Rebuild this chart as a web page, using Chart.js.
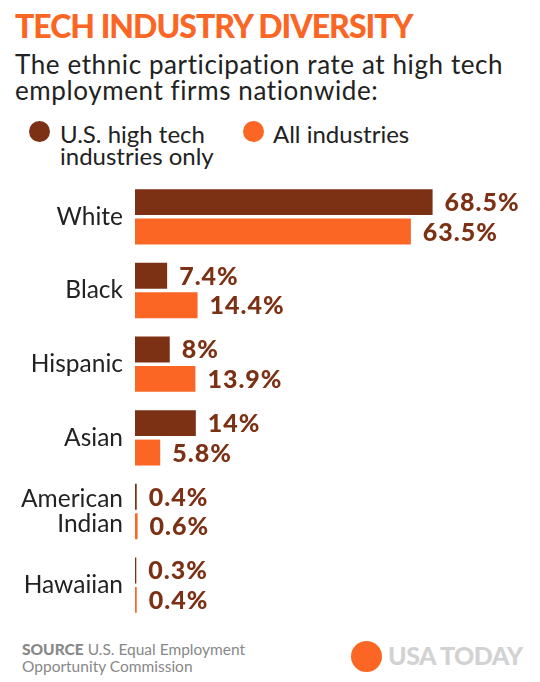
<!DOCTYPE html>
<html>
<head>
<meta charset="utf-8">
<script src="https://cdn.jsdelivr.net/npm/chart.js@4/dist/chart.umd.min.js"></script>
<style>
  body { margin: 0; background: #fff; font-family: Lato, "Noto Sans", sans-serif; }
  #page { position: relative; width: 540px; height: 682px; overflow: hidden; }
  .abs { position: absolute; white-space: nowrap; }
  #title { left: 15px; top: 10px; font-size: 32px; line-height: 32px; font-weight: 900; color: #fb6624; letter-spacing: -1px; }
  #subtitle { left: 15px; top: 51px; font-size: 26px; line-height: 26px; letter-spacing: 0.6px; color: #222; }
  .dot { position: absolute; width: 21px; height: 21px; border-radius: 50%; }
  .legtext { font-size: 24px; line-height: 22px; color: #222; top: 123px; }
  #source { left: 22px; top: 641px; font-size: 15.5px; line-height: 17px; color: #888; }
  #source b { color: #888; font-weight: 900; }
  #logo { left: 351px; top: 641px; width: 31px; height: 31px; }
  #logotext { left: 388px; top: 643px; font-size: 25px; line-height: 25px; font-weight: 900; color: #d2d2d2; letter-spacing: -0.5px; }
  #box { position: absolute; left: 0; top: 175px; width: 540px; height: 455px; }
</style>
</head>
<body>
<div id="page">
  <div id="title" class="abs">TECH INDUSTRY DIVERSITY</div>
  <div id="subtitle" class="abs">The ethnic participation rate at high tech<br>employment firms nationwide:</div>

  <div class="dot" style="left:29px; top:121px; background:#7c3115;"></div>
  <div class="abs legtext" style="left:60px;">U.S. high tech<br>industries only</div>
  <div class="dot" style="left:243px; top:121px; background:#fb6624;"></div>
  <div class="abs legtext" style="left:273px;">All industries</div>

  <div id="box"><canvas id="chart"></canvas></div>

  <div id="source" class="abs"><b>SOURCE</b> U.S. Equal Employment<br>Opportunity Commission</div>
  <div id="logo" class="dot" style="background:#fb6624;"></div>
  <div id="logotext" class="abs">USA TODAY</div>
</div>

<script>
const categories = ['White', 'Black', 'Hispanic', 'Asian', ['American', 'Indian'], 'Hawaiian'];
const techValues = [68.5, 7.4, 8, 14, 0.4, 0.3];
const allValues = [63.5, 14.4, 13.9, 5.8, 0.6, 0.4];
const seriesNames = ['U.S. high tech industries only', 'All industries'];

const darkBrown = '#7c3115';
const orange = '#fb6624';

// draws the percent labels after each bar
const valueLabels = {
  id: 'valueLabels',
  afterDatasetsDraw(chart) {
    const ctx = chart.ctx;
    ctx.save();
    ctx.font = '900 25px Lato, "Noto Sans", sans-serif';
    ctx.letterSpacing = '1px';
    ctx.fillStyle = darkBrown;
    ctx.textAlign = 'left';
    ctx.textBaseline = 'middle';
    chart.data.datasets.forEach((ds, i) => {
      chart.getDatasetMeta(i).data.forEach((bar, j) => {
        ctx.fillText(ds.data[j] + '%', bar.x + 12, bar.y + 1);
      });
    });
    ctx.restore();
  }
};

const chart = new Chart(document.getElementById('chart').getContext('2d'), {
  type: 'bar',
  data: {
    labels: categories,
    datasets: [
      { label: seriesNames[0], data: techValues, backgroundColor: darkBrown },
      { label: seriesNames[1], data: allValues, backgroundColor: orange }
    ]
  },
  options: {
    indexAxis: 'y',
    responsive: true,
    maintainAspectRatio: false,
    animation: false,
    datasets: {
      bar: { categoryPercentage: 0.8, barPercentage: 0.88 }
    },
    layout: { padding: { top: 5, bottom: 8, left: 0, right: 14 } },
    plugins: {
      legend: { display: false },
      tooltip: { enabled: false }
    },
    scales: {
      x: {
        display: false,
        min: 0,
        max: 90
      },
      y: {
        grid: { display: false, drawTicks: false },
        border: { display: false },
        ticks: {
          color: '#222',
          padding: 12,
          font: { family: 'Lato, "Noto Sans", sans-serif', size: 24.5, lineHeight: 1.0 }
        },
        afterFit(scale) {
          scale.width = 135;
          scale.paddingTop = 0;
          scale.paddingBottom = 0;
        }
      }
    }
  },
  plugins: [valueLabels]
});
</script>
</body>
</html>
